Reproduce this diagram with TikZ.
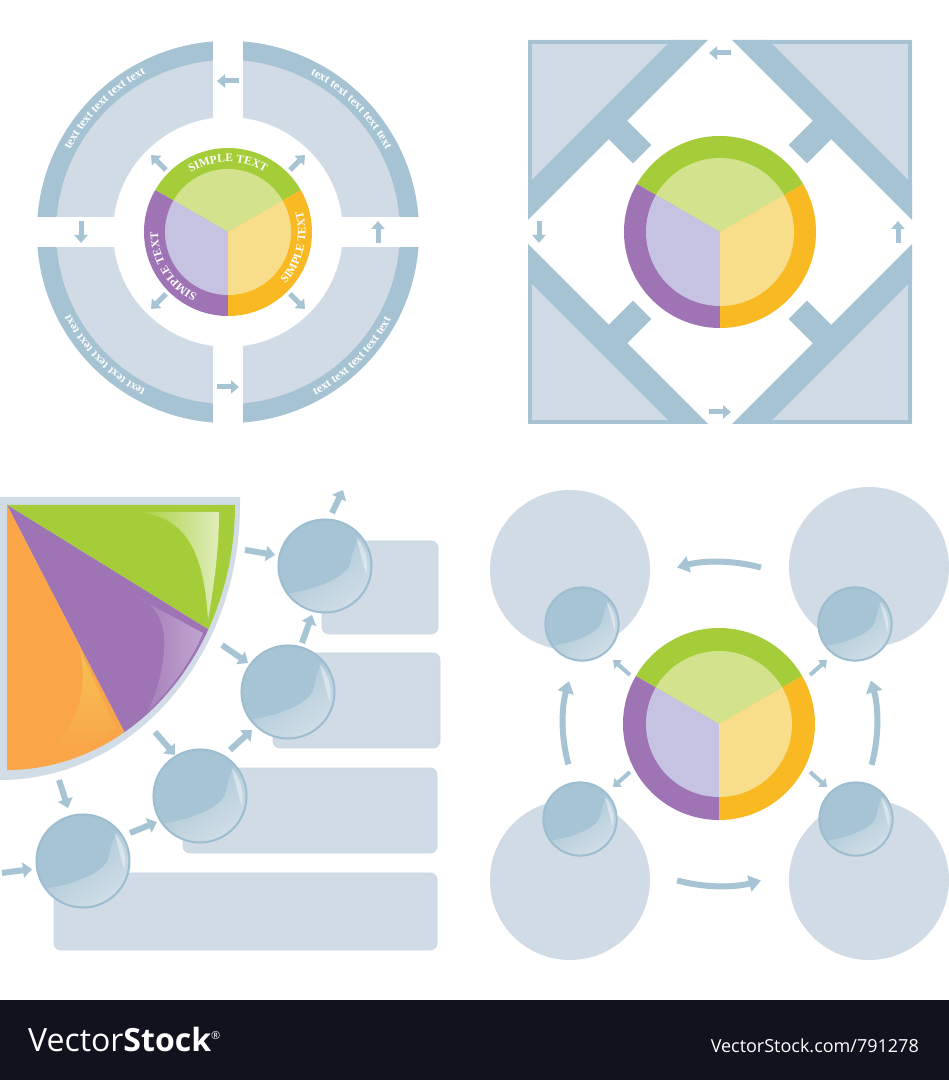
\documentclass[tikz,border=0pt]{standalone}
\usepackage{fontspec}
\setmainfont{Liberation Serif}
\newfontfamily\wmfont{Open Sans}
\usetikzlibrary{arrows.meta,decorations.text}
\definecolor{pale}{HTML}{D0DBE5}
\definecolor{band}{HTML}{A5C3D3}
\definecolor{arr}{HTML}{A7C4D5}
\definecolor{gring}{HTML}{A5CD39}
\definecolor{glite}{HTML}{D3E38D}
\definecolor{pring}{HTML}{9E74B5}
\definecolor{plite}{HTML}{C5C3E1}
\definecolor{oring}{HTML}{F8B923}
\definecolor{olite}{HTML}{F8DE8A}
\definecolor{qorange}{HTML}{F9A548}
\definecolor{qohi}{HTML}{F5C253}
\definecolor{qframe}{HTML}{D2DCE6}
\definecolor{bubfill}{HTML}{A7C4D5}
\definecolor{bubrim}{HTML}{9DBDD0}
\definecolor{bubhi}{HTML}{D3E0E8}
\definecolor{navy}{HTML}{12121F}
\newcommand\labfont{\fontsize{12}{14}\selectfont\bfseries}
\newcommand\simfont{\fontsize{11.5}{13}\selectfont\bfseries}
\newcommand\mypie[4]{%
\begin{scope}[shift={(#1,#2)}]
\fill[gring] (0,0) -- (30:#3) arc[start angle=30,end angle=150,radius=#3] -- cycle;
\fill[pring] (0,0) -- (150:#3) arc[start angle=150,end angle=270,radius=#3] -- cycle;
\fill[oring] (0,0) -- (270:#3) arc[start angle=270,end angle=390,radius=#3] -- cycle;
\fill[glite] (0,0) -- (30:#4) arc[start angle=30,end angle=150,radius=#4] -- cycle;
\fill[plite] (0,0) -- (150:#4) arc[start angle=150,end angle=270,radius=#4] -- cycle;
\fill[olite] (0,0) -- (270:#4) arc[start angle=270,end angle=390,radius=#4] -- cycle;
\end{scope}}
\newcommand\mybubble[3]{%
\begin{scope}[shift={(#1,#2)},scale=#3]
\fill[bubfill] (0,0) circle[radius=1];
\shade[top color=bubfill, bottom color=bubhi, shading angle=35]
  (40:0.97) arc[start angle=40,end angle=-143,radius=0.97]
  .. controls (-0.2,-0.5) and (0.45,-0.25) .. (0.54,0.05)
  .. controls (0.58,0.25) and (0.62,0.45) .. (40:0.97) -- cycle;
\fill[white,opacity=0.4] (42:0.9) arc[start angle=42,end angle=-12,radius=0.9]
  .. controls (0.8,0.1) and (0.72,0.4) .. (42:0.9) -- cycle;
\draw[bubrim,line width=2pt] (0,0) circle[radius=0.99];
\end{scope}}
\newcommand\qpiece{%
\fill[pale] (-192,192) -- (-44,192) -- (-192,44) -- cycle;
\draw[band,line width=4pt] (-44,190) -- (-190,190) -- (-190,44);
\fill[band] (-48,192) -- (-12,192) -- (-192,12) -- (-192,48) -- cycle;
\fill[band,rotate=135] (110,-13) rectangle (150,13);}
\tikzset{
 blk/.style={draw=arr,line width=5pt,-{Triangle[width=13pt,length=8pt]}},
 blkbig/.style={draw=arr,line width=6pt,-{Triangle[width=15pt,length=9pt]}},
 blksmall/.style={draw=arr,line width=4pt,-{Triangle[width=11pt,length=7pt]}},
 carr/.style={draw=arr,line width=6pt,-{Triangle[width=16pt,length=12pt]}},
 qrect/.style={fill=pale,draw=pale!85!band,line width=0.8pt,rounded corners=7pt},
 txtpath/.style={decorate,decoration={text along path,text align=center,text color=white,text={|\labfont|#1}}},
 simpath/.style={decorate,decoration={text along path,text align=center,text color=white,text={|\simfont|#1}}}
}
\begin{document}
\begin{tikzpicture}[x=1pt,y=1pt]
\useasboundingbox (0,0) rectangle (949,1080);
\fill[white] (0,0) rectangle (949,1080);

% ---------- Quadrant 1: segmented ring ----------
\begin{scope}[shift={(228,848)}]
\fill[pale,even odd rule] (0,0) circle[radius=191] (0,0) circle[radius=115];
\fill[band,even odd rule] (0,0) circle[radius=191] (0,0) circle[radius=172];
\fill[white] (-15,-200) rectangle (15,200);
\fill[white] (-200,-15) rectangle (200,15);
\mypie{0}{0}{84}{63}
\path[simpath={SIMPLE TEXT}] (130:70) arc[start angle=130,end angle=50,radius=70];
\path[simpath={SIMPLE TEXT}] (-45:77.5) arc[start angle=-45,end angle=19,radius=77.5];
\path[simpath={SIMPLE TEXT}] (250:70) arc[start angle=250,end angle=174,radius=70];
\path[txtpath={text text text text text}] (168:178) arc[start angle=168,end angle=102,radius=178];
\path[txtpath={text text text text text}] (78:178) arc[start angle=78,end angle=12,radius=178];
\path[txtpath={text text text text text}] (258:178) arc[start angle=258,end angle=192,radius=178];
\path[txtpath={text text text text text}] (282:185) arc[start angle=282,end angle=348,radius=185];
\draw[blk] (11,151) -- (-11,151);
\draw[blk] (-147,11) -- (-147,-11);
\draw[blk] (-11,-155) -- (11,-155);
\draw[blk] (150,-11) -- (150,11);
\draw[blk] (-62,62) -- (-77,77);
\draw[blk] (62,62) -- (77,77);
\draw[blk] (-62,-62) -- (-77,-77);
\draw[blk] (62,-62) -- (77,-77);
\end{scope}

% ---------- Quadrant 2: square frame ----------
\begin{scope}[shift={(720,848)}]
\qpiece
\begin{scope}[xscale=-1]\qpiece\end{scope}
\begin{scope}[yscale=-1]\qpiece\end{scope}
\begin{scope}[scale=-1]\qpiece\end{scope}
\mypie{0}{0}{96}{74}
\draw[blk] (11,179) -- (-11,179);
\draw[blk] (-181,11) -- (-181,-11);
\draw[blk] (-11,-180) -- (11,-180);
\draw[blk] (178,-11) -- (178,11);
\end{scope}

% ---------- Quadrant 3: quarter pie with steps ----------
\draw[qrect] (322,446) rectangle (438,539);
\draw[qrect] (273,332) rectangle (440,427);
\draw[qrect] (183,227) rectangle (437,312);
\draw[qrect] (54,130) rectangle (437,207);
\begin{scope}[shift={(0,575)}]
\fill[qframe] (0,8) -- (240,8) -- (240,0) arc[start angle=0,end angle=-90,x radius=240,y radius=275] -- cycle;
\end{scope}
\begin{scope}[shift={(7,575)}]
\fill[gring] (0,0) -- (228,0) arc[start angle=0,end angle=-28,x radius=228,y radius=265] -- cycle;
\fill[pring] (0,0) -- (-28:228 and 265) arc[start angle=-28,end angle=-59,x radius=228,y radius=265] -- cycle;
\fill[qorange] (0,0) -- (-59:228 and 265) arc[start angle=-59,end angle=-90,x radius=228,y radius=265] -- cycle;
\end{scope}
\shade[left color=gring, right color=gring!35!white]
  (133,568) -- (219,568) .. controls (219,530) and (214,495) .. (208,460)
  .. controls (204,530) and (185,566) .. (133,568) -- cycle;
\shade[left color=pring, right color=pring!65!white]
  (127,488) .. controls (158,478) and (166,455) .. (164,430)
  .. controls (162,405) and (156,385) .. (147,368)
  .. controls (172,392) and (192,420) .. (203,447) -- cycle;
\shade[top color=qohi, bottom color=qorange]
  (80,430) -- (116,352) .. controls (100,338) and (70,328) .. (50,333)
  .. controls (78,355) and (88,390) .. (80,430) -- cycle;
\mybubble{325}{514}{47}
\mybubble{288}{388}{47}
\mybubble{200}{284}{47}
\mybubble{83}{219}{47}
\draw[blkbig] (2,207) -- (32,211);
\draw[blkbig] (59,300) -- (68,272);
\draw[blkbig] (130,247) -- (157,258);
\draw[blkbig] (155,348) -- (175,325);
\draw[blkbig] (230,330) -- (252,350);
\draw[blkbig] (222,435) -- (248,417);
\draw[blkbig] (302,437) -- (312,465);
\draw[blkbig] (245,530) -- (275,525);
\draw[blkbig] (332,567) -- (343,590);

% ---------- Quadrant 4: circles around pie ----------
\fill[pale] (570,510) circle[radius=80];
\fill[pale] (869,513) circle[radius=80];
\fill[pale] (570,200) circle[radius=80];
\fill[pale] (869,200) circle[radius=80];
\mybubble{582}{456}{37}
\mybubble{855}{456}{37}
\mybubble{580}{261}{37}
\mybubble{856}{261}{37}
\begin{scope}[shift={(719,356)}]
\mypie{0}{0}{96}{73}
\draw[carr] (75:162) arc[start angle=75,end angle=105,radius=162];
\draw[carr] (195:156) arc[start angle=195,end angle=164,radius=156];
\draw[carr] (255:162) arc[start angle=255,end angle=285,radius=162];
\draw[carr] (-15:158) arc[start angle=-15,end angle=16,radius=158];
\draw[blksmall] (-89,49) -- (-106,64);
\draw[blksmall] (91,49) -- (108,64);
\draw[blksmall] (-89,-48) -- (-106,-63);
\draw[blksmall] (91,-48) -- (108,-63);
\end{scope}

% ---------- watermark band ----------
\fill[navy] (0,0) rectangle (949,80);
\node[anchor=west,inner sep=0,text=white,font=\wmfont\fontsize{32}{34}\selectfont] (logo) at (28,40)
  {Vector\textbf{Stock}\raisebox{12pt}{\fontsize{11}{11}\selectfont ®}};
\node[anchor=east,inner sep=0,text=white,font=\wmfont\fontsize{18}{20}\selectfont] (url) at (919,34)
  {VectorStock.com/791278};
\end{tikzpicture}
\end{document}
